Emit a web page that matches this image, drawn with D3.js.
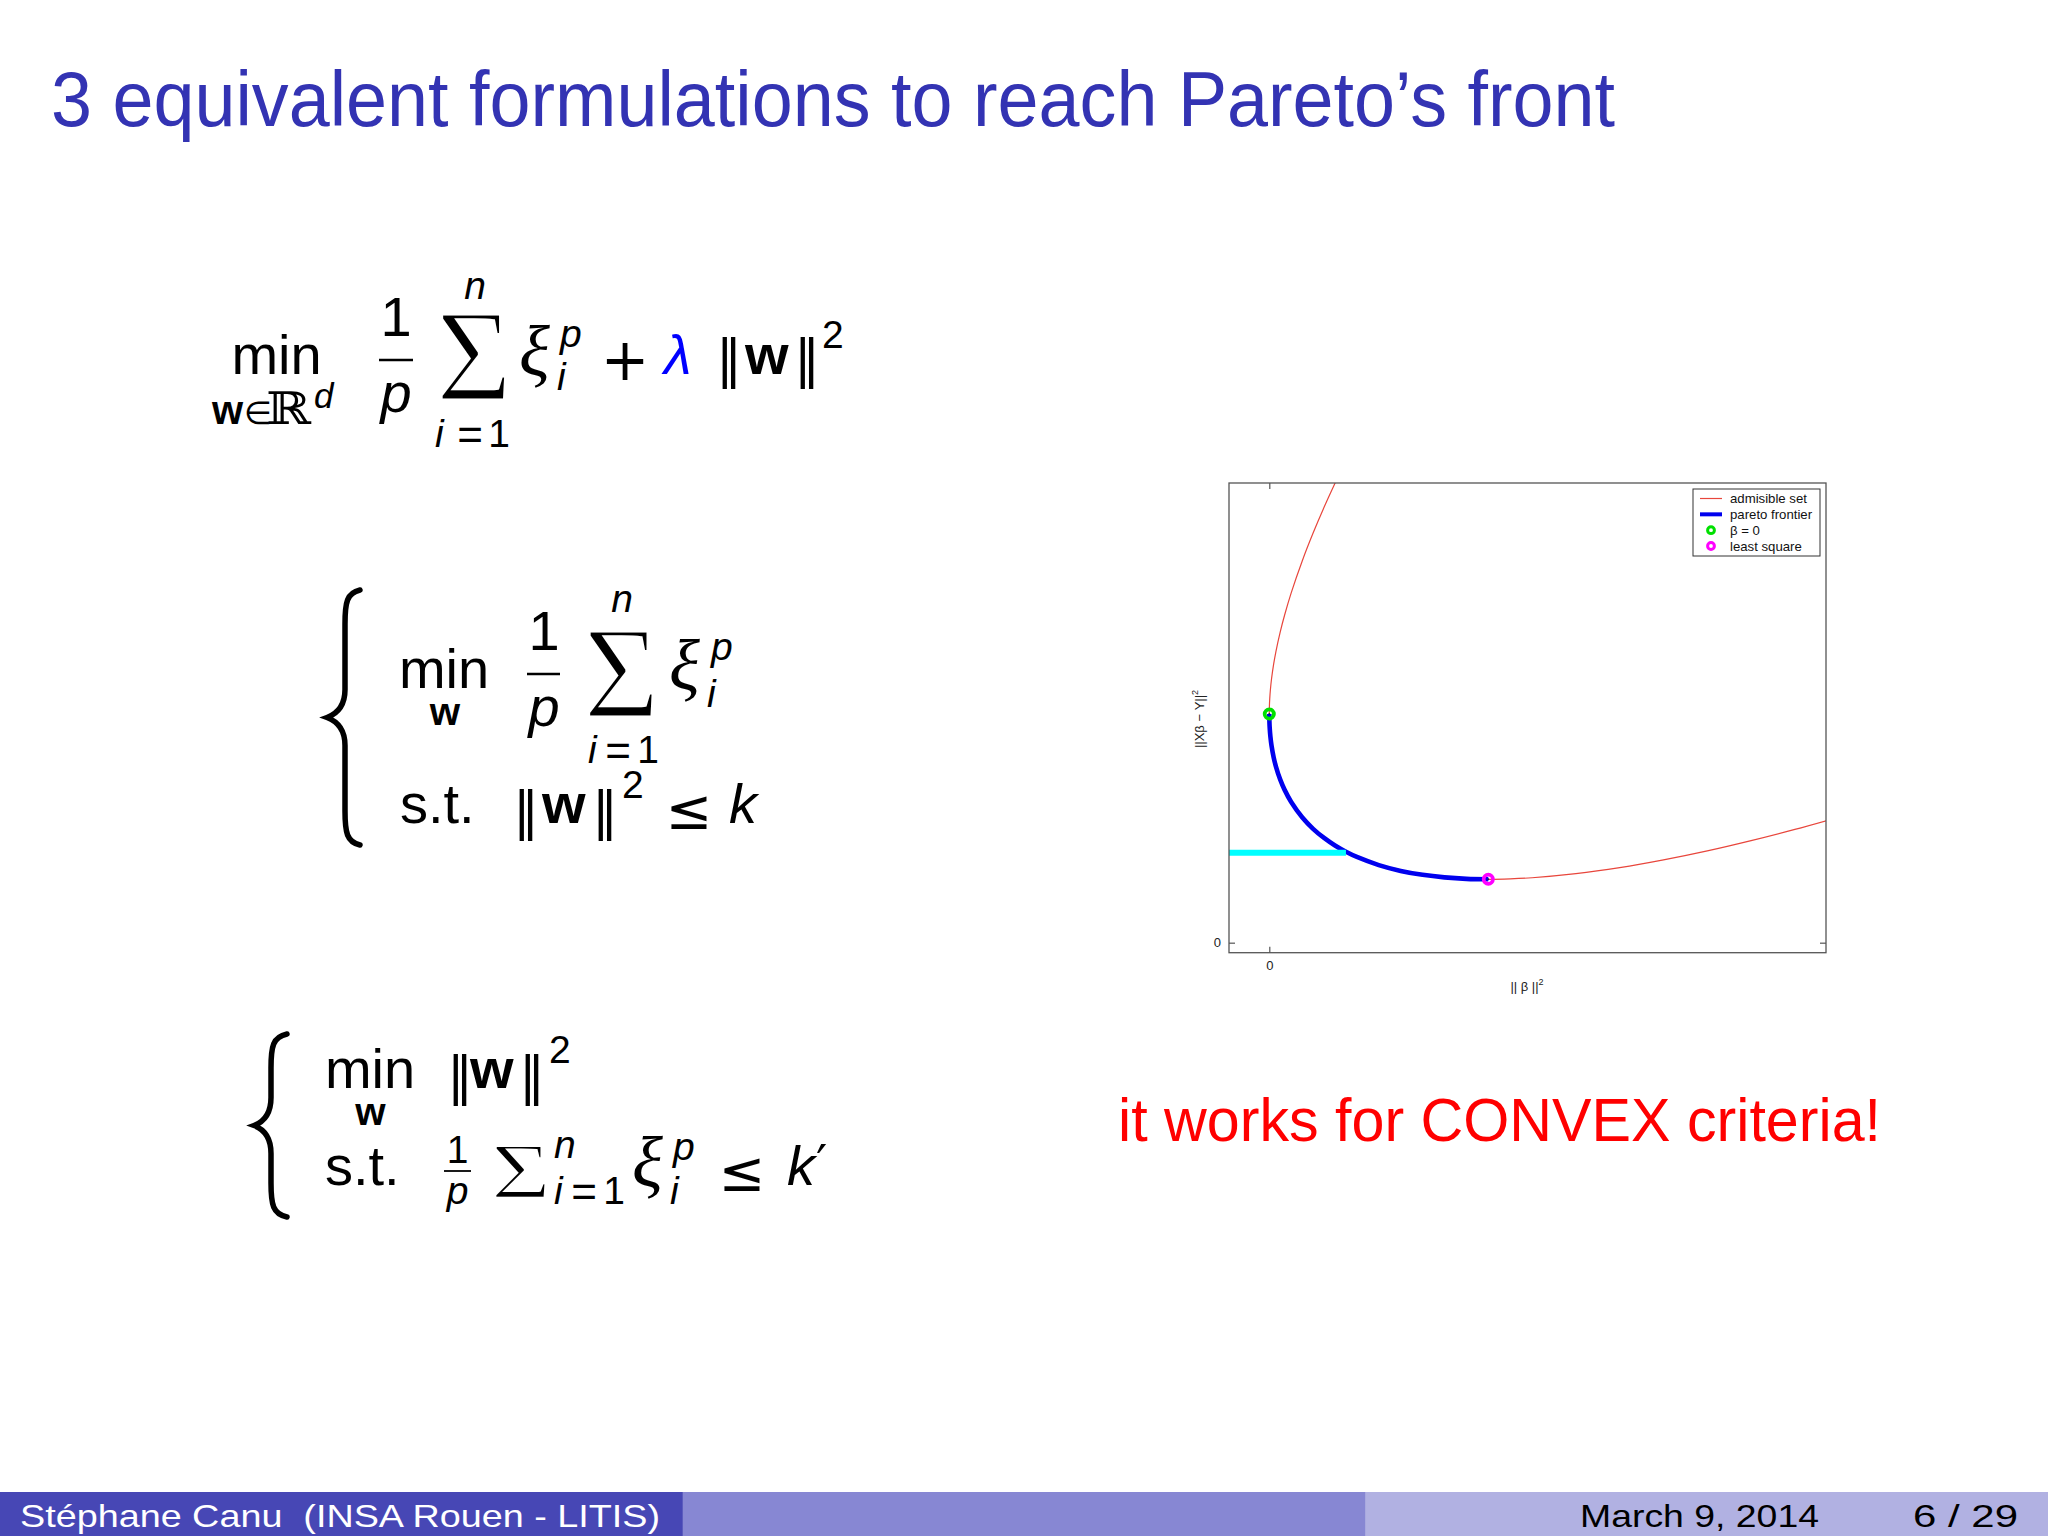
<!DOCTYPE html>
<html><head><meta charset="utf-8">
<script src="https://cdn.jsdelivr.net/npm/d3@7"></script>
<style>
html,body{margin:0;padding:0;background:#fff;}
svg{display:block;}
</style></head><body>
<svg id="slide" width="2048" height="1536"></svg>
<script>
// admissible set: upper branch from the top, then lower branch to the right edge
const admissibleX = [0.31, 0.30, 0.25, 0.20, 0.15, 0.10, 0.07, 0.05, 0.03, 0.02, 0.01, 0.005, 0.002, 0.0005, 0,
  0.0005, 0.002, 0.005, 0.01, 0.02, 0.03, 0.05, 0.07, 0.10, 0.15, 0.20, 0.25, 0.30, 0.35, 0.40, 0.50, 0.60,
  0.70, 0.80, 0.90, 1.00, 1.10, 1.20, 1.40, 1.60, 1.80, 2.00, 2.20, 2.40, 2.55];
const admissibleY = [7.318, 7.245, 6.866, 6.460, 6.017, 5.517, 5.168, 4.903, 4.588, 4.396, 4.154, 3.989, 3.845, 3.725, 3.607,
  3.492, 3.379, 3.251, 3.112, 2.922, 2.782, 2.571, 2.410, 2.219, 1.979, 1.796, 1.652, 1.533, 1.434, 1.352, 1.224, 1.132,
  1.070, 1.030, 1.007, 1.000, 1.007, 1.024, 1.088, 1.183, 1.305, 1.447, 1.609, 1.786, 1.929];
// pareto frontier: from beta = 0 down to the least square point
const paretoX = [0, 0.0005, 0.002, 0.005, 0.01, 0.02, 0.03, 0.05, 0.07, 0.10, 0.15, 0.20, 0.25, 0.30, 0.35,
  0.40, 0.50, 0.60, 0.70, 0.80, 0.90, 1.00];
const paretoY = [3.607, 3.492, 3.379, 3.251, 3.112, 2.922, 2.782, 2.571, 2.410, 2.219, 1.979, 1.796, 1.652, 1.533, 1.434,
  1.352, 1.224, 1.132, 1.070, 1.030, 1.007, 1.000];
const constraintLevel = 1.42;   // cyan level line
const constraintEnd = 0.35;
const markerNames = ["β = 0", "least square"];
const markerX = [0, 1];
const markerY = [3.607, 1.0];
const legendLabels = ["admisible set", "pareto frontier", "β = 0", "least square"];
const xTickValues = [0];
const yTickValues = [0];
const footerColors = ["#4747b5", "#8787d3", "#b1b1e2"];

const SANS = "'Liberation Sans', Arial, sans-serif";
const SERIF = "'Liberation Serif', 'DejaVu Serif', serif";
const DJS = "'DejaVu Sans', sans-serif";

const svg = d3.select("#slide");
svg.append("rect").attr("width", 2048).attr("height", 1536).attr("fill", "#fff");

function tx(g, s, x, y, o = {}) {
  const t = g.append("text").attr("x", x).attr("y", y)
    .attr("font-family", o.font || SANS).attr("font-size", o.size || 56)
    .attr("text-anchor", o.anchor || "start").attr("fill", o.color || "#000")
    .text(s);
  if (o.italic) t.attr("font-style", "italic");
  if (o.bold) t.attr("font-weight", 700);
  if (o.central) t.attr("dominant-baseline", "central");
  if (o.len) t.attr("textLength", o.len).attr("lengthAdjust", "spacingAndGlyphs");
  if (o.pre) t.attr("xml:space", "preserve").style("white-space", "pre");
  if (o.thin) t.attr("stroke", "#fff").attr("stroke-width", o.thin);
  return t;
}
function bar(g, x1, x2, y, w) {
  g.append("line").attr("x1", x1).attr("x2", x2).attr("y1", y).attr("y2", y)
    .attr("stroke", "#000").attr("stroke-width", w || 2.4);
}
function brace(g, top, bottom, tipX, stemX, endX) {
  const mid = (top + bottom) / 2;
  const p = d3.path();
  p.moveTo(endX, top);
  p.bezierCurveTo(stemX + 2, top + 3, stemX, top + 12, stemX, top + 34);
  p.lineTo(stemX, mid - 28);
  p.bezierCurveTo(stemX, mid - 10, tipX + 8, mid - 3, tipX, mid);
  p.bezierCurveTo(tipX + 8, mid + 3, stemX, mid + 10, stemX, mid + 28);
  p.lineTo(stemX, bottom - 34);
  p.bezierCurveTo(stemX, bottom - 12, stemX + 2, bottom - 3, endX, bottom);
  g.append("path").attr("d", p.toString()).attr("fill", "none")
    .attr("stroke", "#000").attr("stroke-width", 5.5).attr("stroke-linecap", "round");
}

// ---------- title ----------
tx(svg, "3 equivalent formulations to reach Pareto\u2019s front", 51, 126,
  { size: 77, color: "#3333b3", len: 1564 });

// ---------- formula 1 ----------
const f1 = svg.append("g");
tx(f1, "min", 276.5, 374, { anchor: "middle" });
tx(f1, "w", 212, 424, { size: 40, bold: true });
tx(f1, "\u2208", 244, 424, { size: 32, font: DJS });
tx(f1, "\u211D", 266, 424, { size: 45, font: "'DejaVu Serif', serif", len: 45 });
tx(f1, "d", 314, 408, { size: 35, italic: true });
tx(f1, "1", 396, 336, { anchor: "middle" });
bar(f1, 379, 413, 360);
tx(f1, "p", 396, 412, { anchor: "middle", italic: true });
tx(f1, "\u03A3", 474, 400, { anchor: "middle", size: 131, font: SERIF, thin: 3 });
tx(f1, "n", 475, 299, { anchor: "middle", size: 39, italic: true });
tx(f1, "i", 435, 447, { size: 39, italic: true });
tx(f1, "=", 470, 450, { anchor: "middle", size: 44 });
tx(f1, "1", 499, 447, { anchor: "middle", size: 39 });
tx(f1, "\u03BE", 519, 376, { size: 72, italic: true, font: SERIF });
tx(f1, "p", 560, 347, { size: 39, italic: true });
tx(f1, "i", 557, 390, { size: 39, italic: true });
tx(f1, "+", 625, 360, { anchor: "middle", size: 58, font: DJS, central: true });
tx(f1, "\u03BB", 664, 374, { italic: true, color: "#0000ff" });
tx(f1, "\u2016", 716, 376, { size: 52, font: DJS });
tx(f1, "w", 745, 374, { bold: true });
tx(f1, "\u2016", 794, 376, { size: 52, font: DJS });
tx(f1, "2", 822, 348, { size: 39 });

// ---------- formula 2 ----------
const f2 = svg.append("g");
brace(f2, 590, 845, 327, 345, 360);
tx(f2, "min", 444, 688, { anchor: "middle" });
tx(f2, "w", 445, 725, { anchor: "middle", size: 39, bold: true });
tx(f2, "1", 544, 650, { anchor: "middle" });
bar(f2, 527, 560, 674);
tx(f2, "p", 544, 726, { anchor: "middle", italic: true });
tx(f2, "\u03A3", 621.5, 717, { anchor: "middle", size: 131, font: SERIF, thin: 3 });
tx(f2, "n", 622, 612, { anchor: "middle", size: 39, italic: true });
tx(f2, "i", 588, 763, { size: 39, italic: true });
tx(f2, "=", 618, 766, { anchor: "middle", size: 44 });
tx(f2, "1", 648, 763, { anchor: "middle", size: 39 });
tx(f2, "\u03BE", 669, 690, { size: 72, italic: true, font: SERIF });
tx(f2, "p", 711, 660, { size: 39, italic: true });
tx(f2, "i", 707, 707, { size: 39, italic: true });
tx(f2, "s.t.", 400, 823);
tx(f2, "\u2016", 513, 828, { size: 52, font: DJS });
tx(f2, "w", 542, 823, { bold: true });
tx(f2, "\u2016", 592, 828, { size: 52, font: DJS });
tx(f2, "2", 622, 798, { size: 39 });
tx(f2, "\u2264", 689, 809, { anchor: "middle", size: 56, font: DJS, central: true });
tx(f2, "k", 729, 823, { italic: true });

// ---------- formula 3 ----------
const f3 = svg.append("g");
brace(f3, 1034, 1217, 254, 271, 287);
tx(f3, "min", 370, 1088, { anchor: "middle" });
tx(f3, "w", 370.5, 1125, { anchor: "middle", size: 39, bold: true });
tx(f3, "\u2016", 447, 1093, { size: 52, font: DJS });
tx(f3, "w", 470, 1088, { bold: true });
tx(f3, "\u2016", 519, 1093, { size: 52, font: DJS });
tx(f3, "2", 549, 1063, { size: 39 });
tx(f3, "s.t.", 325, 1185);
tx(f3, "1", 457.5, 1163, { anchor: "middle", size: 39 });
bar(f3, 444, 471, 1171, 1.8);
tx(f3, "p", 457.5, 1204, { anchor: "middle", size: 39, italic: true });
tx(f3, "\u03A3", 521, 1197, { anchor: "middle", size: 79, font: SERIF, len: 60, thin: 2 });
tx(f3, "n", 554, 1158, { size: 39, italic: true });
tx(f3, "i", 554, 1204, { size: 39, italic: true });
tx(f3, "=", 584, 1207, { anchor: "middle", size: 44 });
tx(f3, "1", 614, 1204, { anchor: "middle", size: 39 });
tx(f3, "\u03BE", 632, 1187, { size: 72, italic: true, font: SERIF });
tx(f3, "p", 673, 1160, { size: 39, italic: true });
tx(f3, "i", 670, 1204, { size: 39, italic: true });
tx(f3, "\u2264", 742, 1171, { anchor: "middle", size: 56, font: DJS, central: true });
tx(f3, "k", 787, 1185, { italic: true });
tx(f3, "\u2032", 816, 1180, { size: 50, font: DJS });

// ---------- red remark ----------
tx(svg, "it works for CONVEX criteria!", 1118, 1141, { size: 61, color: "#ff0000", len: 763 });

// ---------- chart ----------
const box = { left: 1229, right: 1826, top: 483, bottom: 952.7 };
const x = d3.scaleLinear().domain([-0.184, 2.542]).range([box.left, box.right]);
const y = d3.scaleLinear().domain([-0.158, 7.25]).range([box.bottom, box.top]);
const chart = svg.append("g");

chart.append("clipPath").attr("id", "plotclip").append("rect")
  .attr("x", box.left).attr("y", box.top)
  .attr("width", box.right - box.left).attr("height", box.bottom - box.top);

const line = d3.line().x(d => x(d[0])).y(d => y(d[1])).curve(d3.curveCatmullRom.alpha(0.5));
const plot = chart.append("g").attr("clip-path", "url(#plotclip)");

plot.append("path").datum(d3.zip(admissibleX, admissibleY))
  .attr("d", line).attr("fill", "none").attr("stroke", "#e8463c").attr("stroke-width", 1.2);
plot.append("path").datum(d3.zip(paretoX, paretoY))
  .attr("d", line).attr("fill", "none").attr("stroke", "#0000ee").attr("stroke-width", 4.6);
plot.append("line")
  .attr("x1", x(x.domain()[0])).attr("x2", x(constraintEnd))
  .attr("y1", y(constraintLevel)).attr("y2", y(constraintLevel))
  .attr("stroke", "#00ffff").attr("stroke-width", 6);

const markerColors = ["#00e000", "#ff00ff"];
plot.selectAll(".mk").data(d3.range(markerX.length)).join("circle")
  .attr("class", "mk")
  .attr("cx", i => x(markerX[i])).attr("cy", i => y(markerY[i])).attr("r", 4.6)
  .attr("fill", "none").attr("stroke", i => markerColors[i]).attr("stroke-width", 3.8);
plot.selectAll(".mkc").data(d3.range(markerX.length)).join("circle")
  .attr("class", "mkc")
  .attr("cx", i => x(markerX[i])).attr("cy", i => y(markerY[i])).attr("r", 1)
  .attr("fill", "#1a1a60");

// axes: ticks pointing inwards, MATLAB style box
const axFont = g => g.selectAll("text").attr("font-family", SANS).attr("font-size", 13).attr("fill", "#222");
const axLine = g => { g.select(".domain").remove(); g.selectAll("line").attr("stroke", "#555").attr("stroke-width", 1.2); };
chart.append("g").attr("transform", `translate(0,${box.bottom})`)
  .call(d3.axisBottom(x).tickValues(xTickValues).tickSizeInner(-6).tickSizeOuter(0).tickPadding(8).tickFormat(d3.format("d")))
  .call(axLine).call(axFont);
chart.append("g").attr("transform", `translate(0,${box.top})`)
  .call(d3.axisTop(x).tickValues(xTickValues).tickSizeInner(-6).tickSizeOuter(0).tickFormat(""))
  .call(axLine);
chart.append("g").attr("transform", `translate(${box.left},0)`)
  .call(d3.axisLeft(y).tickValues(yTickValues).tickSizeInner(-6).tickSizeOuter(0).tickPadding(8).tickFormat(d3.format("d")))
  .call(axLine).call(axFont);
chart.append("g").attr("transform", `translate(${box.right},0)`)
  .call(d3.axisRight(y).tickValues(yTickValues).tickSizeInner(-6).tickSizeOuter(0).tickFormat(""))
  .call(axLine);
chart.append("rect").attr("x", box.left).attr("y", box.top)
  .attr("width", box.right - box.left).attr("height", box.bottom - box.top)
  .attr("fill", "none").attr("stroke", "#555").attr("stroke-width", 1.3);

// axis labels
const xl = chart.append("text").attr("x", 1527).attr("y", 991).attr("text-anchor", "middle")
  .attr("font-family", SANS).attr("font-size", 13).attr("fill", "#222");
xl.append("tspan").style("white-space", "pre").text("|| \u03B2 ||");
xl.append("tspan").attr("font-size", 9).attr("dy", -6).text("2");
const yl = chart.append("text").attr("transform", "translate(1204,719) rotate(-90)").attr("text-anchor", "middle")
  .attr("font-family", SANS).attr("font-size", 13).attr("fill", "#222");
yl.append("tspan").style("white-space", "pre").text("||X\u03B2 \u2212 Y||");
yl.append("tspan").attr("font-size", 9).attr("dy", -6).text("2");

// legend
const lg = chart.append("g");
lg.append("rect").attr("x", 1693).attr("y", 489).attr("width", 127).attr("height", 67)
  .attr("fill", "#fff").attr("stroke", "#333").attr("stroke-width", 1);
const rowY = d3.scalePoint().domain(legendLabels).range([498.5, 546]);
lg.selectAll(".lt").data(legendLabels).join("text").attr("class", "lt")
  .attr("x", 1730).attr("y", d => rowY(d) + 4.6)
  .attr("font-family", SANS).attr("font-size", 13.2).attr("fill", "#111").text(d => d);
lg.append("line").attr("x1", 1700).attr("x2", 1722).attr("y1", rowY(legendLabels[0])).attr("y2", rowY(legendLabels[0]))
  .attr("stroke", "#e8463c").attr("stroke-width", 1.2);
lg.append("line").attr("x1", 1700).attr("x2", 1722).attr("y1", rowY(legendLabels[1])).attr("y2", rowY(legendLabels[1]))
  .attr("stroke", "#0000ee").attr("stroke-width", 4);
lg.selectAll(".lm").data(markerNames).join("circle").attr("class", "lm")
  .attr("cx", 1711).attr("cy", d => rowY(d)).attr("r", 3.4)
  .attr("fill", "none").attr("stroke", (d, i) => markerColors[i]).attr("stroke-width", 3);

// ---------- footer ----------
const fw = 2048 / footerColors.length;
svg.selectAll(".ft").data(footerColors).join("rect").attr("class", "ft")
  .attr("x", (d, i) => i * fw).attr("y", 1492).attr("width", fw + 0.5).attr("height", 44).attr("fill", d => d);
tx(svg, "St\u00e9phane Canu  (INSA Rouen - LITIS)", 20, 1527, { size: 32, color: "#fff", len: 640, pre: true });
tx(svg, "March 9, 2014", 1580, 1527, { size: 32, len: 239 });
tx(svg, "6 / 29", 1913, 1527, { size: 32, len: 105, pre: true });
</script>
</body></html>
